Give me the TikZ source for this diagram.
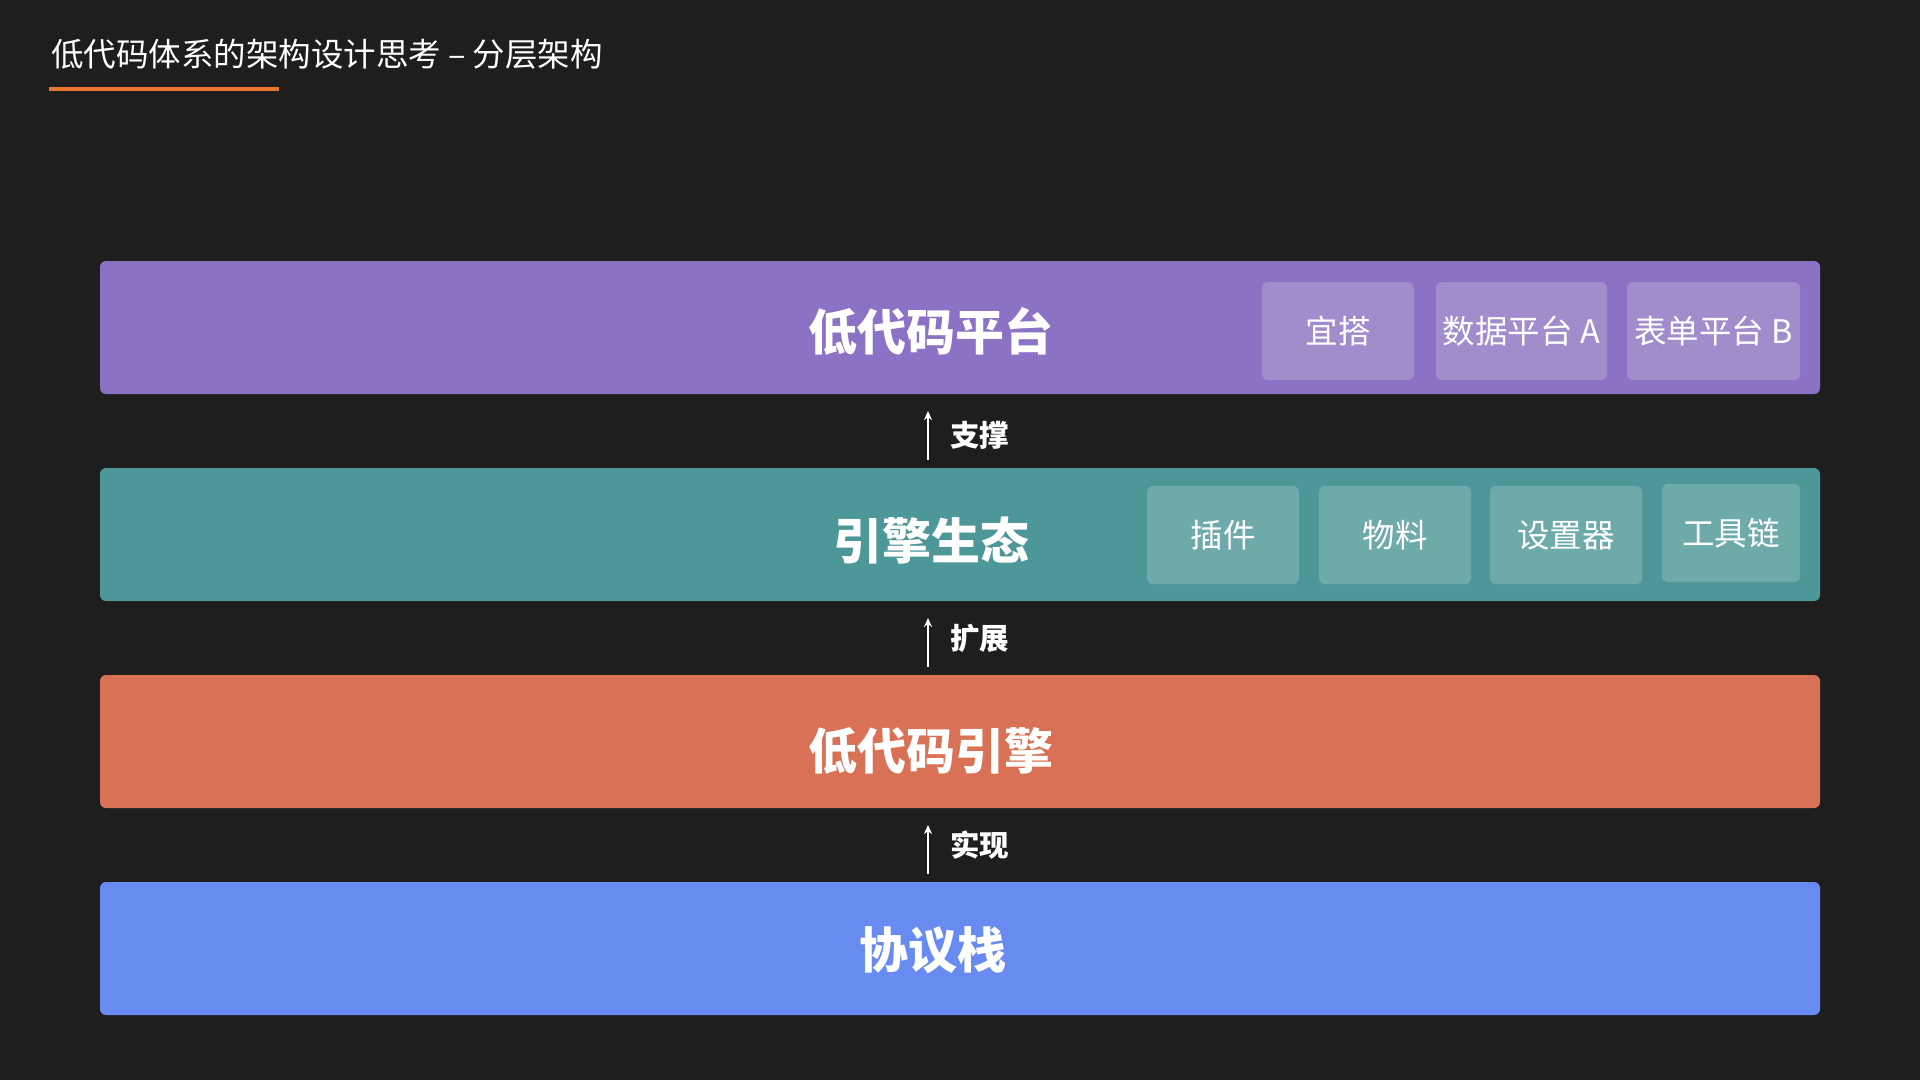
\documentclass[tikz,border=0pt]{standalone}
\usepackage{fontspec}
\setmainfont{Noto Sans CJK SC}
\usetikzlibrary{arrows.meta,positioning}

\definecolor{bgdark}{HTML}{1E1E1E}
\definecolor{platformpurple}{HTML}{8B72C4}
\definecolor{platformlight}{HTML}{A18DCC}
\definecolor{ecoteal}{HTML}{4E9798}
\definecolor{ecolight}{HTML}{6FAAAA}
\definecolor{engineorange}{HTML}{D87156}
\definecolor{protoblue}{HTML}{678BF0}
\definecolor{titleorange}{HTML}{E9772F}

\begin{document}
\begin{tikzpicture}[
        x=1pt, y=-1pt,
        node distance=74pt and 20pt,
        every node/.style={text=white, inner sep=0pt, outer sep=0pt},
        layer/.style={rounded corners=6pt, minimum width=1720pt, minimum height=133pt},
        layertext/.style={font=\fontsize{49}{53}\selectfont\bfseries},
        item/.style={rounded corners=6pt, minimum height=98pt, font=\fontsize{32.5}{36}\selectfont},
        link/.style={draw=white, line width=2pt, -{Stealth[length=9pt,width=8pt]}, shorten <=8pt, shorten >=17pt},
        linktext/.style={font=\fontsize{29.5}{32}\selectfont\bfseries, right=22pt}
    ]

    \fill[bgdark] (0,0) rectangle (1920,1080);
    \useasboundingbox (0,0) rectangle (1920,1080);

    % Title
    \node (title) [anchor=west, font=\fontsize{32.5}{36}\selectfont] at (51,54) {低代码体系的架构设计思考 – 分层架构};
    \draw[titleorange, line width=4pt] (49,89) -- (279,89);

    % Layers
    \node (platform) [layer, fill=platformpurple] at (960,327.5) {};
    \node (eco) [layer, fill=ecoteal, below=of platform] {};
    \node (engine) [layer, fill=engineorange, below=of eco] {};
    \node (proto) [layer, fill=protoblue, below=of engine] {};

    \node (platformtext) [layertext] at ([xshift=-29pt,yshift=-4pt]platform.center) {低代码平台};
    \node (ecotext) [layertext] at ([xshift=-29pt,yshift=-6pt]eco.center) {引擎生态};
    \node (enginetext) [layertext] at ([xshift=-29pt,yshift=-9pt]engine.center) {低代码引擎};
    \node (prototext) [layertext] at ([xshift=-27pt,yshift=-2pt]proto.center) {协议栈};

    % Platform items
    \node (formb) [item, fill=platformlight, minimum width=173pt, anchor=east] at ([xshift=-20pt,yshift=-3.5pt]platform.east) {表单平台 B};
    \node (dataa) [item, fill=platformlight, minimum width=171pt, left=20pt of formb] {数据平台 A};
    \node (yida) [item, fill=platformlight, minimum width=152pt, left=22pt of dataa] {宜搭};

    % Ecosystem items
    \node (toolchain) [item, fill=ecolight, minimum width=138pt, anchor=east] at ([xshift=-20pt,yshift=1.5pt]eco.east) {工具链};
    \node (setter) [item, fill=ecolight, minimum width=152pt, left=20pt of toolchain, yshift=-2pt] {设置器};
    \node (material) [item, fill=ecolight, minimum width=152pt, left=19pt of setter] {物料};
    \node (plugin) [item, fill=ecolight, minimum width=152pt, left=20pt of material] {插件};

    % Edges
    \draw[link] ([xshift=-32pt]eco.north) -- ([xshift=-32pt]platform.south) node[midway, linktext, yshift=-4pt] {支撑};
    \draw[link] ([xshift=-32pt]engine.north) -- ([xshift=-32pt]eco.south) node[midway, linktext] {扩展};
    \draw[link] ([xshift=-32pt]proto.north) -- ([xshift=-32pt]engine.south) node[midway, linktext] {实现};

\end{tikzpicture}
\end{document}
